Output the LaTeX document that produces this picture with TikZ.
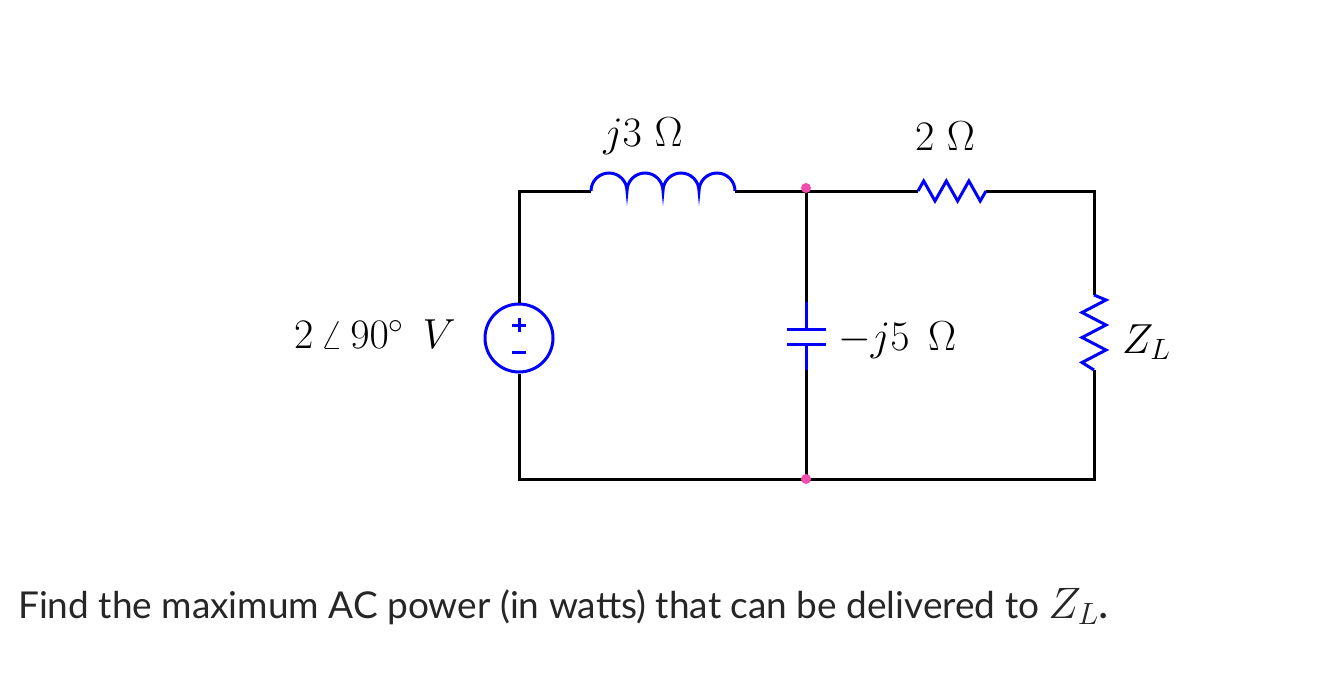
\RequirePackage{fix-cm}
\documentclass[tikz,border=0pt]{standalone}
\usepackage{fontspec}
\newfontfamily\lato{Lato}
\begin{document}
\begin{tikzpicture}[x=1pt,y=-1pt,
  wire/.style={line width=3pt,black},
  comp/.style={line width=3pt,blue},
  dot/.style={circle,fill=magenta!70!white,inner sep=0pt,minimum size=10pt},
  lab/.style={font=\fontsize{42}{46}\selectfont,inner sep=0pt}]
\fill[white] (0,0) rectangle (1338,682);
\useasboundingbox (0,0) rectangle (1338,682);
\coordinate (tl) at (519,191); \coordinate (bl) at (519,479);
\coordinate (tm) at (806,191); \coordinate (bm) at (806,479);
\coordinate (tr) at (1094,191); \coordinate (br) at (1094,479);
\coordinate (l1) at (591,191); \coordinate (l2) at (735,191);
\coordinate (r1) at (918,191); \coordinate (r2) at (986,191);
\coordinate (z1) at (1094,295); \coordinate (z2) at (1094,370);
\coordinate (c1) at (806,302); \coordinate (c2) at (806,370);
\node[draw=blue,line width=3pt,circle,minimum size=68pt,inner sep=0pt] (src) at (519,338) {};
% wires
\draw[wire] (src.north) -- (tl) -- (l1);
\draw[wire] (l2) -- (tm) -- (r1);
\draw[wire] (r2) -- (tr) -- (z1);
\draw[wire] (z2) -- (br) -- (bm) -- (bl) -- (src.south);
\draw[wire] (tm) -- (c1);
\draw[wire] (c2) -- (bm);
% inductor
\draw[comp] (l1) arc (180:360:18) arc (180:360:18) arc (180:360:18) arc (180:360:18);
% resistor
\draw[comp,line join=miter] (r1) -- ++(5.7,-10) -- ++(11.3,20) -- ++(11.3,-20) -- ++(11.3,20) -- ++(11.3,-20) -- ++(11.3,20) -- (r2);
% ZL
\draw[comp,line join=miter] (z1) -- ++(12,5) -- ++(-24,12.5) -- ++(24,12.5) -- ++(-24,12.5) -- ++(24,12.5) -- ++(-24,12.5) -- (z2);
% capacitor
\draw[comp] (c1) -- (806,329) (787,329) -- (826,329) (787,344) -- (826,344) (806,344) -- (c2);
% source signs
\draw[blue,line width=3pt] (519,318) -- (519,332) (512,325) -- (526,325) (512,352) -- (526,352);
\node[dot] (d1) at (806,188) {};
\node[dot] (d2) at (806,479) {};
\node[lab] (lj3) at (643,136) {$j3\ \Omega$};
\node[lab] (lr) at (945,136) {$2\ \Omega$};
\node[lab,anchor=east] (lv) at (456,334) {$2\,\angle\,90^\circ\;\, V$};
\node[lab,anchor=west] (lc) at (838,340) {$-j5\;\,\Omega$};
\node[lab,anchor=west] (lz) at (1122,342) {$Z_L$};
\node[anchor=base west,inner sep=0pt,text=black!85,font=\lato\fontsize{37}{41}\selectfont] (q) at (18,618) {Find the maximum AC power (in watts) that can be delivered to \fontsize{44}{48}\selectfont$Z_L$.};
\end{tikzpicture}
\end{document}
